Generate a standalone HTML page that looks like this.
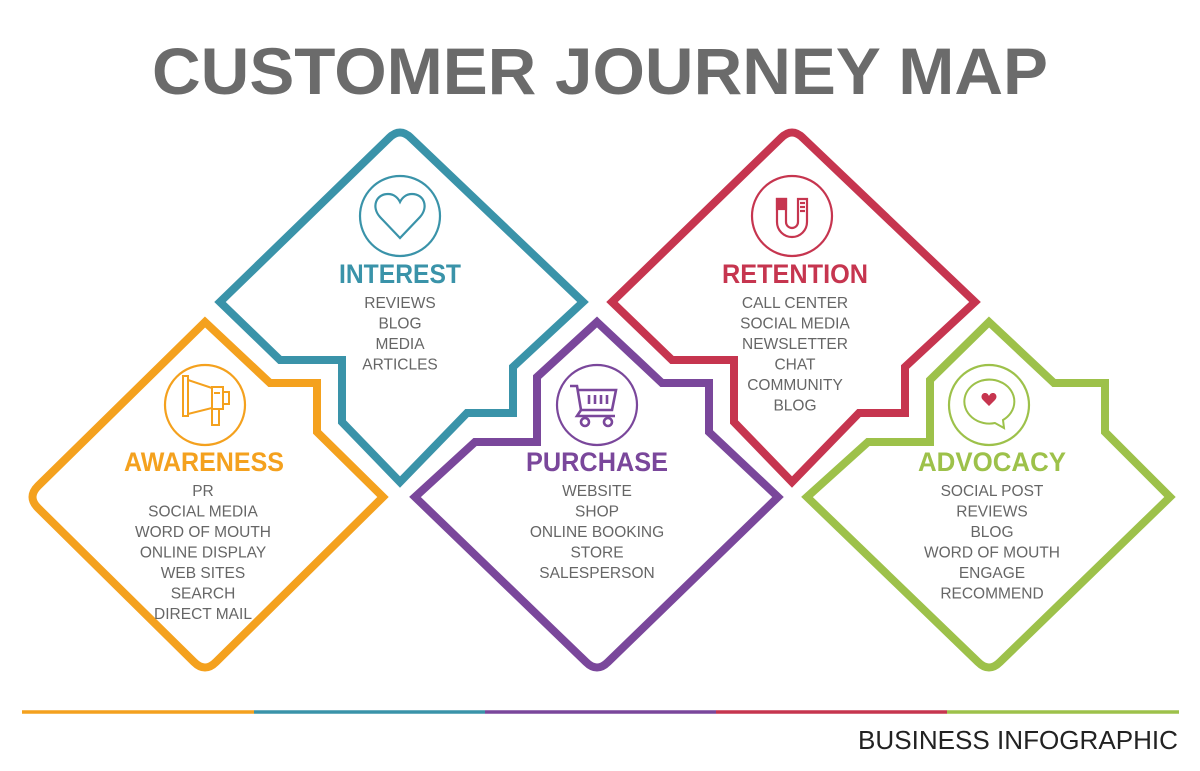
<!DOCTYPE html>
<html><head><meta charset="utf-8"><style>
html,body{margin:0;padding:0;background:#fff;}
svg{display:block;}
.h{font-family:"Liberation Sans",sans-serif;font-weight:bold;}
.t{font-family:"Liberation Sans",sans-serif;font-weight:bold;font-size:27px;text-anchor:middle;}
.l{font-family:"Liberation Sans",sans-serif;font-size:15.5px;fill:#666;text-anchor:middle;}
</style></head><body>
<svg width="1200" height="771" viewBox="0 0 1200 771" xmlns="http://www.w3.org/2000/svg">
<text x="152" y="94" class="h" font-size="66" fill="#6b6b6b" textLength="896" lengthAdjust="spacingAndGlyphs">CUSTOMER JOURNEY MAP</text>
<g fill="none" stroke-width="8" stroke-linejoin="miter">
<!-- Awareness -->
<path stroke="#F4A11E" d="M205,322 L270,383 L317,383 L317,432 L383,497 L216,662 Q205,673 194,662 L38,508 Q27,497 38,486 Z"/>
<!-- Interest -->
<path stroke="#3A93A9" d="M389,138 Q400,127 411,138 L583,302 L513,367 L513,413 L467,413 L400,482 L342,422 L342,360 L280,360 L220,302 Z"/>
<!-- Purchase -->
<path stroke="#7A479B" d="M597,322 L662,383 L709,383 L709,432 L778,497 L608,662 Q597,673 586,662 L415,497 L475,442 L537,442 L537,377 Z"/>
<!-- Retention -->
<path stroke="#C6354F" d="M781,138 Q792,127 803,138 L975,302 L905,367 L905,413 L859,413 L792,482 L734,422 L734,360 L672,360 L612,302 Z"/>
<!-- Advocacy -->
<path stroke="#9DC14A" d="M989,322 L1054,383 L1105,383 L1105,432 L1170,497 L1000,662 Q989,673 978,662 L807,497 L868,442 L930,442 L930,380 Z"/>
</g>
<!-- icon circles -->
<g fill="none" stroke-width="2.2">
<circle cx="205" cy="405" r="40" stroke="#F4A11E"/>
<circle cx="400" cy="216" r="40" stroke="#3A93A9"/>
<circle cx="597" cy="405" r="40" stroke="#7A479B"/>
<circle cx="792" cy="216" r="40" stroke="#C6354F"/>
<circle cx="989" cy="405" r="40" stroke="#9DC14A"/>
</g>
<!-- megaphone -->
<g fill="none" stroke="#F4A11E" stroke-width="2">
<rect x="183" y="397" width="5" height="40" transform="translate(0,-21)"/>
<path d="M188,380 L212,388 L212,408 L188,414 Z"/>
<rect x="212" y="387" width="11" height="22"/>
<rect x="223" y="392" width="6" height="12"/>
<rect x="212" y="409" width="7" height="16"/>
<line x1="214" y1="393" x2="220" y2="393"/>
</g>
<!-- heart -->
<path d="M400,238 L380,217 C371,207 376,194 388,194 C394,194 398,198 400,202 C402,198 406,194 412,194 C424,194 429,207 420,217 Z" fill="none" stroke="#3A93A9" stroke-width="2.2"/>
<!-- cart -->
<g fill="none" stroke="#7A479B" stroke-width="2.6">
<path d="M570,386 L577,386 L581,410 L612,410 L616,390 L577,390"/>
<path d="M581,410 L577,416 L615,416"/>
<line x1="589" y1="395" x2="589" y2="404"/><line x1="595" y1="395" x2="595" y2="404"/><line x1="601" y1="395" x2="601" y2="404"/><line x1="607" y1="395" x2="607" y2="404"/>
<circle cx="585" cy="422" r="4"/><circle cx="608" cy="422" r="4"/>
</g>
<!-- magnet -->
<g fill="none" stroke="#C6354F" stroke-width="2.2">
<path d="M777,199 L777,222 A15,15 0 0 0 807,222 L807,199 L798,199 L798,222 A6,6 0 0 1 786,222 L786,199 Z"/>
<rect x="777" y="199" width="9" height="10" fill="#C6354F"/>
<line x1="800" y1="203" x2="805" y2="203"/><line x1="800" y1="207" x2="805" y2="207"/><line x1="800" y1="211" x2="805" y2="211"/>
</g>
<!-- speech bubble -->
<g fill="none" stroke="#9DC14A" stroke-width="2">
<path d="M1003,420 A25,22 0 1 0 995,423 L1004,428 Z"/>
</g>
<path d="M989,406 L983,400 C980,397 982,393 985,393 C987,393 988,394 989,396 C990,394 991,393 993,393 C996,393 998,397 995,400 Z" fill="#C6354F"/>
<!-- titles -->
<text x="204" y="471" class="t" fill="#F4A11E" textLength="160" lengthAdjust="spacingAndGlyphs">AWARENESS</text>
<text x="400" y="283" class="t" fill="#3A93A9" textLength="122" lengthAdjust="spacingAndGlyphs">INTEREST</text>
<text x="597" y="471" class="t" fill="#7A479B" textLength="142" lengthAdjust="spacingAndGlyphs">PURCHASE</text>
<text x="795" y="283" class="t" fill="#C6354F" textLength="146" lengthAdjust="spacingAndGlyphs">RETENTION</text>
<text x="992" y="471" class="t" fill="#9DC14A" textLength="148" lengthAdjust="spacingAndGlyphs">ADVOCACY</text>
<!-- lists -->
<g class="l">
<text x="203" y="496" class="l">PR</text>
<text x="203" y="516.5" class="l">SOCIAL MEDIA</text>
<text x="203" y="537" class="l">WORD OF MOUTH</text>
<text x="203" y="557.5" class="l">ONLINE DISPLAY</text>
<text x="203" y="578" class="l">WEB SITES</text>
<text x="203" y="598.5" class="l">SEARCH</text>
<text x="203" y="619" class="l">DIRECT MAIL</text>

<text x="400" y="308" class="l">REVIEWS</text>
<text x="400" y="328.5" class="l">BLOG</text>
<text x="400" y="349" class="l">MEDIA</text>
<text x="400" y="369.5" class="l">ARTICLES</text>

<text x="597" y="496" class="l">WEBSITE</text>
<text x="597" y="516.5" class="l">SHOP</text>
<text x="597" y="537" class="l">ONLINE BOOKING</text>
<text x="597" y="557.5" class="l">STORE</text>
<text x="597" y="578" class="l">SALESPERSON</text>

<text x="795" y="308" class="l">CALL CENTER</text>
<text x="795" y="328.5" class="l">SOCIAL MEDIA</text>
<text x="795" y="349" class="l">NEWSLETTER</text>
<text x="795" y="369.5" class="l">CHAT</text>
<text x="795" y="390" class="l">COMMUNITY</text>
<text x="795" y="410.5" class="l">BLOG</text>

<text x="992" y="496" class="l">SOCIAL POST</text>
<text x="992" y="516.5" class="l">REVIEWS</text>
<text x="992" y="537" class="l">BLOG</text>
<text x="992" y="557.5" class="l">WORD OF MOUTH</text>
<text x="992" y="578" class="l">ENGAGE</text>
<text x="992" y="598.5" class="l">RECOMMEND</text>
</g>
<!-- bottom line -->
<g stroke-width="3.5">
<line x1="22" y1="712" x2="254" y2="712" stroke="#F4A11E"/>
<line x1="254" y1="712" x2="485" y2="712" stroke="#3A93A9"/>
<line x1="485" y1="712" x2="716" y2="712" stroke="#7A479B"/>
<line x1="716" y1="712" x2="947" y2="712" stroke="#C6354F"/>
<line x1="947" y1="712" x2="1179" y2="712" stroke="#9DC14A"/>
</g>
<text x="1178" y="749" font-family="Liberation Sans, sans-serif" font-size="26" fill="#222" text-anchor="end" textLength="320" lengthAdjust="spacingAndGlyphs">BUSINESS INFOGRAPHIC</text>
</svg>
</body></html>
